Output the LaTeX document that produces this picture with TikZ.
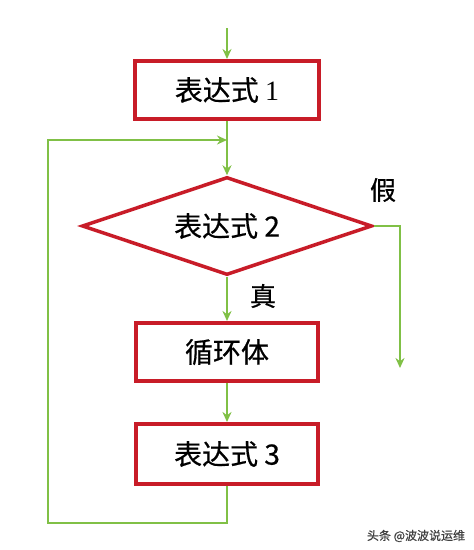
\documentclass[tikz,border=0pt]{standalone}
\usepackage{fontspec}
\setmainfont{Noto Sans CJK SC}[FakeBold=0.6]
\newfontfamily\serifnum{Liberation Serif}
\usetikzlibrary{shapes.geometric,arrows.meta}
\definecolor{boxred}{RGB}{200,28,40}
\definecolor{flowgreen}{RGB}{128,192,70}
\tikzset{
  box/.style={draw=boxred, line width=4pt, fill=white, minimum width=182pt, minimum height=58pt, inner sep=0pt, font=\fontsize{28pt}{32pt}\selectfont},
  dia/.style={diamond, draw=boxred, line width=3.5pt, fill=white, minimum width=290pt, minimum height=98pt, shape aspect=2.95, inner sep=0pt, font=\fontsize{28pt}{32pt}\selectfont},
  arr/.style={draw=flowgreen, line width=2pt, -{Stealth[length=10pt,width=9pt]}},
  lbl/.style={font=\fontsize{26pt}{30pt}\selectfont},
  wm/.style={font=\fontsize{12pt}{14pt}\selectfont, text=black!75}
}
\begin{document}
\begin{tikzpicture}[x=1pt,y=-1pt]
\useasboundingbox (0,0) rectangle (474,550);
\node[box, minimum width=184pt] (e1) at (227,90) {表达式 {\serifnum 1}};
\node[dia] (e2) at (227,226) {表达式 2};
\node[box] (body) at (227,352) {循环体};
\node[box, minimum height=60pt] (e3) at (227,454) {表达式 3};
\coordinate (start) at (227,28);
\coordinate (j) at (227,140);
\coordinate (lb) at (48,523);
\coordinate (fend) at (400,368);
\draw[arr] (start) -- (e1.north);
\draw[arr] (e1.south) -- (e2.north);
\draw[arr] (e3.south) |- (lb) |- (j);
\draw[arr] (e2.east) -| (fend);
\draw[arr] (e2.south) -- (body.north);
\draw[arr] (body.south) -- (e3.north);
\node[lbl] (f) at (383,190) {假};
\node[lbl] (t) at (263,296) {真};
\node[wm] (w) at (416,536) {头条 @波波说运维};
\end{tikzpicture}
\end{document}
